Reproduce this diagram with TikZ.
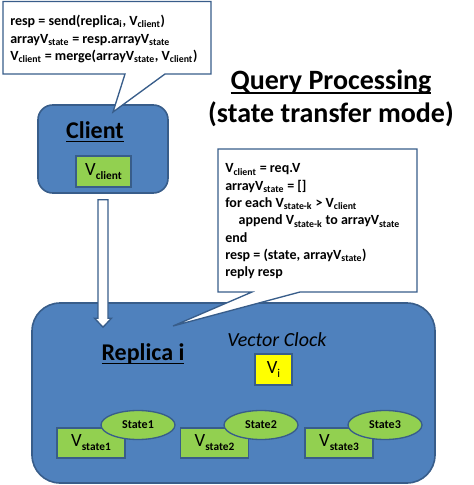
\documentclass[tikz,border=0pt]{standalone}
\usepackage{fontspec}
\setmainfont{Carlito}
\usetikzlibrary{calc,shapes.geometric}
\definecolor{ppBlue}{HTML}{4F81BD}
\definecolor{ppEdge}{HTML}{385D8A}
\definecolor{ppGreen}{HTML}{92D050}
\definecolor{ppYellow}{HTML}{FFFF00}
\newcommand{\Vsub}[1]{{\fontsize{14}{16}\selectfont V}\raisebox{-3pt}{\fontsize{8.5}{10}\selectfont\bfseries #1}}
\newcommand{\uln}[1]{\setbox0\hbox{#1}\rlap{\rule[-3pt]{\wd0}{1.2pt}}\box0}

\begin{document}
\begin{tikzpicture}[
  x=0.75pt, y=-0.75pt,
  font=\bfseries\fontsize{10.5}{13}\selectfont,
  panel/.style={draw=ppEdge, line width=1.2pt, fill=ppBlue, rounded corners=#1, inner sep=0pt},
  vbox/.style={draw=ppEdge, line width=1pt, fill=#1, inner sep=0pt, font=\mdseries},
  note/.style={draw=ppEdge, line width=1pt, fill=white, line join=miter},
  code/.style={align=left, inner sep=0pt, anchor=west},
  head/.style={font=\bfseries\fontsize{18}{21}\selectfont},
]
\useasboundingbox (0,0) rectangle (474,485);
\node[align=center, font=\bfseries\fontsize{21}{24.75}\selectfont] (ttl) at (331,98.5) {\uln{Query Processing}\\(state transfer mode)};
% client side
\node[panel=11pt, minimum width=97.5pt, minimum height=66pt] (client) at (103,149) {};
\node[head] (clbl) at (95,132) {\uln{Client}};
\node[vbox=ppGreen, minimum width=41.25pt, minimum height=23.25pt] (vcl) at (103.5,171.5) {\Vsub{client}};
\draw[note] (3,1.5) -- (211,1.5) -- (211,74) -- (165,74) -- (113,112) -- (125,74) -- (3,74) -- cycle;
\node[code] (qtxt) at (10,39) {resp = send(replica\textsubscript{i}, V\textsubscript{client})\\
  arrayV\textsubscript{state} = resp.arrayV\textsubscript{state}\\
  V\textsubscript{client} = merge(arrayV\textsubscript{state}, V\textsubscript{client})};
% replica side
\node[panel=21pt, minimum width=302.25pt, minimum height=135pt] (replica) at (233.5,393) {};
\node[head] (rlbl) at (143,354) {\uln{Replica i}};
\node[font=\mdseries\itshape\fontsize{15}{18}\selectfont] (vclk) at (277,340) {Vector Clock};
\node[vbox=ppYellow, minimum width=27.75pt, minimum height=23.25pt] (vi) at (273.5,369.5) {{\fontsize{14}{16}\selectfont V}\raisebox{-3pt}{\fontsize{9}{10}\selectfont i}};
\foreach \i/\rx/\ex in {1/91/138, 2/214.5/261, 3/339/385} {
  \node[vbox=ppGreen, minimum width=51pt, minimum height=22.5pt] (vs\i) at (\rx,443) {\Vsub{state\i}};
  \node[vbox=ppGreen, ellipse, minimum width=55.5pt, minimum height=21.75pt, font=\bfseries\fontsize{9}{10}\selectfont] (st\i) at (\ex,425) {State\i};
}
% request arrow
\coordinate (atop) at ([yshift=-4.5pt]client.south);
\coordinate (atip) at ($(atop |- replica.north)+(0,25)$);
\draw[note] ($(atop)+(-5,0)$) -- ($(atop)+(5,0)$) -- ($(atip)+(5,-9)$) -- ($(atip)+(8.5,-9)$) -- (atip)
  -- ($(atip)+(-8.5,-9)$) -- ($(atip)+(-5,-9)$) -- cycle;
\draw[note] (218,149) -- (417,149) -- (417,292) -- (300,292) -- (173,326) -- (252,292) -- (218,292) -- cycle;
\node[code] (rtxt) at (225,221.5) {V\textsubscript{client} = req.V\\
  arrayV\textsubscript{state} = []\\
  for each V\textsubscript{state-k} > V\textsubscript{client}\\
  \hspace*{10pt}append V\textsubscript{state-k} to arrayV\textsubscript{state}\\
  end\\
  resp = (state, arrayV\textsubscript{state})\\
  reply resp};
\end{tikzpicture}
\end{document}
